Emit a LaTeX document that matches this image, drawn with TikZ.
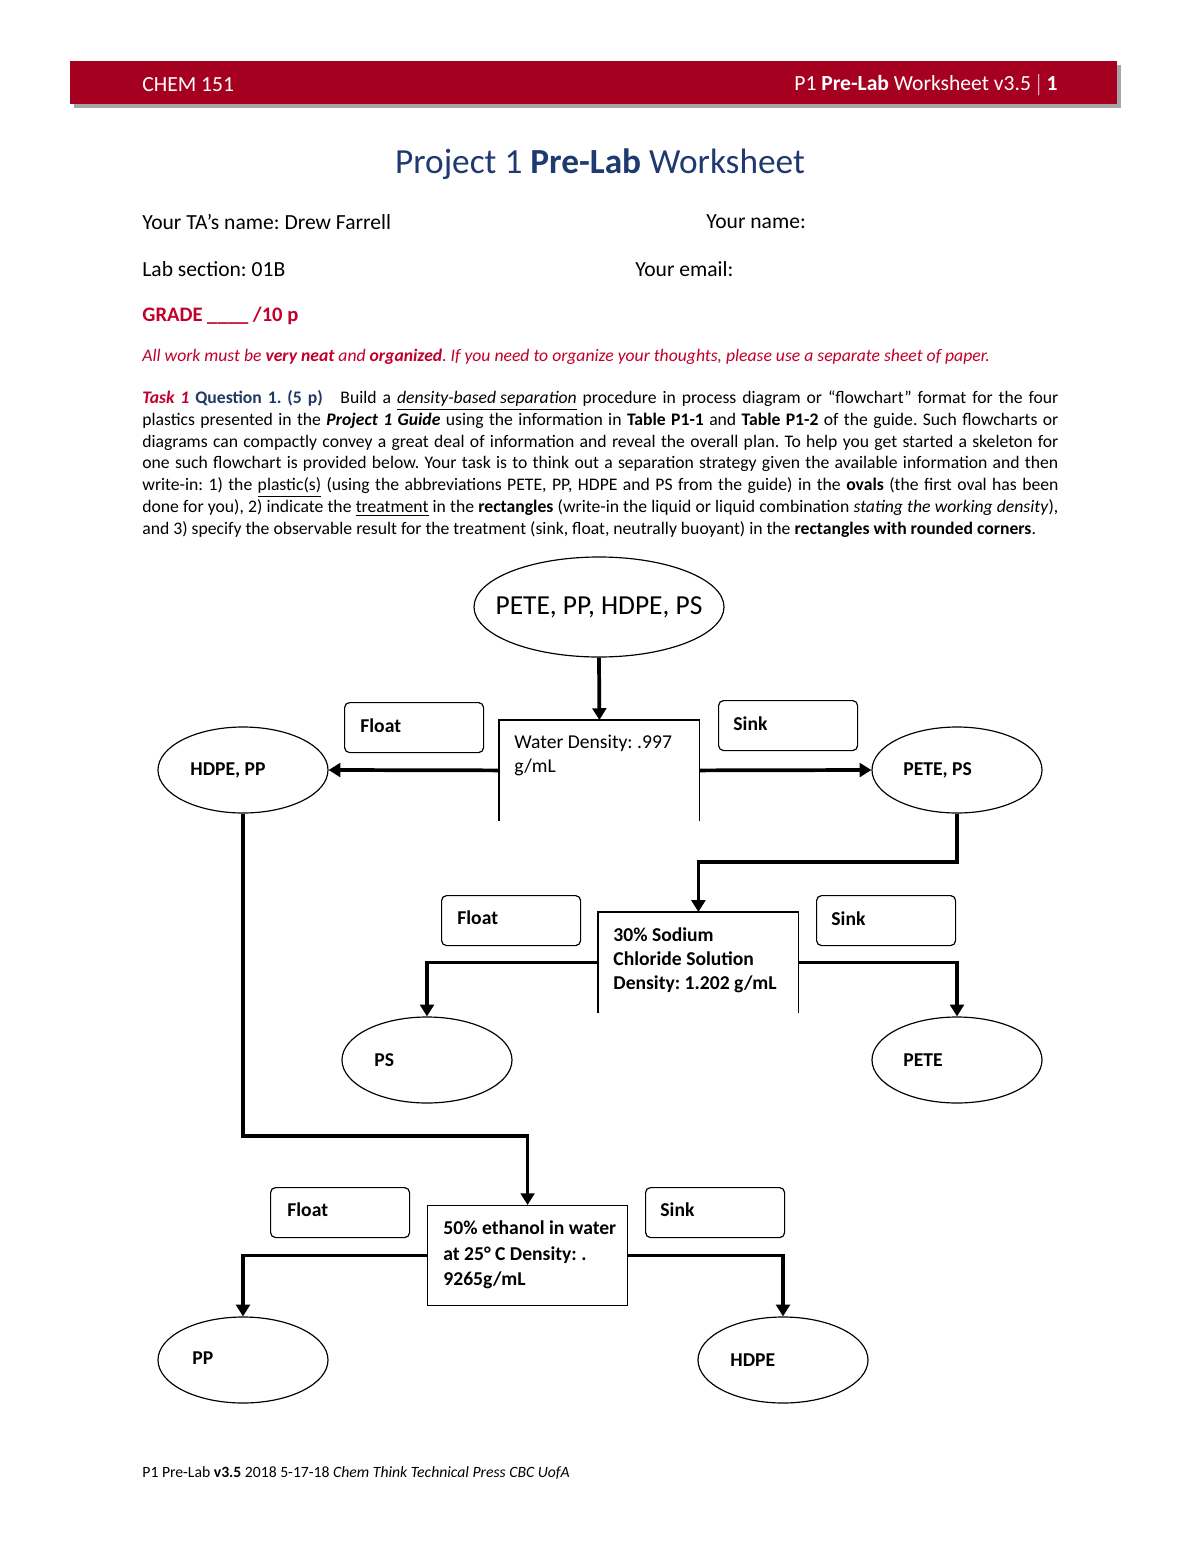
\documentclass[tikz,border=0pt]{standalone}
\usepackage{fontspec}
\setmainfont{Carlito}
\usetikzlibrary{shapes.geometric,arrows.meta}
\definecolor{hdrred}{HTML}{A60021}
\definecolor{hdrshadow}{HTML}{A6A6A6}
\definecolor{txtred}{HTML}{C0002A}
\definecolor{navy}{HTML}{1F3864}
\definecolor{titleblue}{HTML}{1F3A70}
\newlength\pxl
\setlength\pxl{0.51pt}
\frenchspacing
\tikzset{
  hdr/.style={font=\fontsize{11}{13}\selectfont, text=white, inner sep=0pt},
  plain/.style={font=\fontsize{11}{13}\selectfont, inner sep=0pt},
  lbl/.style={font=\fontsize{10}{12}\selectfont\bfseries, inner sep=0pt},
  boxtext/.style={font=\fontsize{10}{12.2}\selectfont\bfseries, inner sep=0pt, align=left},
  oval/.style={ellipse, draw, line width=0.6pt, minimum width=170\pxl, minimum height=86\pxl, inner sep=0pt},
  resbox/.style={draw, line width=0.6pt, rounded corners=5\pxl, minimum width=139\pxl, minimum height=50\pxl, anchor=north west, inner sep=0pt},
  procbox/.style={minimum width=200\pxl, minimum height=100\pxl, anchor=north west, inner sep=0pt},
  conn/.style={line width=1.9pt, -{Triangle[length=6pt,width=7pt]}},
  edge/.style={line width=0.6pt}
}
\begin{document}
\begin{tikzpicture}[x=0.51pt,y=-0.51pt]
\useasboundingbox (0,0) rectangle (1200,1553);
% header band
\fill[hdrshadow] (74,65) rectangle (1121,108);
\fill[hdrred] (70,61) rectangle (1117,104);
\node[hdr, anchor=west] (hl) at (142,85) {CHEM 151};
\node[hdr, anchor=east] (hr) at (1058,85) {P1 \textbf{Pre-Lab} Worksheet v3.5 $|$ \textbf{1}};
% title
\node[inner sep=0pt, text=titleblue, font=\fontsize{18}{20}\selectfont] (title) at (600,164) {Project 1 \textbf{Pre-Lab} Worksheet};
% info lines
\node[plain, anchor=west] (ta) at (142,222) {Your TA’s name: Drew Farrell};
\node[plain, anchor=west] (yn) at (706,222) {Your name:};
\node[plain, anchor=west] (ls) at (142,269) {Lab section: 01B};
\node[plain, anchor=west] (ye) at (635,269) {Your email:};
\node[inner sep=0pt, anchor=west, text=txtred, font=\fontsize{10.5}{13}\selectfont\bfseries] (grade) at (142,316) {GRADE \_\_\_\_ /10 p};
\node[inner sep=0pt, anchor=west, text=txtred, font=\fontsize{9}{11}\selectfont\itshape] (note) at (142,357) {All work must be \textbf{very neat} and \textbf{organized}. If you need to organize your thoughts, please use a separate sheet of paper.};
% task paragraph
\node[inner sep=0pt, anchor=north west, text width=916\pxl, align=justify, font=\fontsize{9}{11.1}\selectfont] (task) at (142,390) {\hyphenpenalty=10000\exhyphenpenalty=10000%
\textcolor{txtred}{\textbf{\textit{Task 1}}} \textcolor{navy}{\textbf{Question 1. (5 p)}}\quad Build a \underline{\textit{density-based separation}} procedure in process diagram or “flowchart” format for the four\linebreak
plastics presented in the \textbf{\textit{Project 1 Guide}} using the information in \textbf{Table P1-1} and \textbf{Table P1-2} of the guide. Such flowcharts or\linebreak
diagrams can compactly convey a great deal of information and reveal the overall plan. To help you get started a skeleton for\linebreak
one such flowchart is provided below. Your task is to think out a separation strategy given the available information and then\linebreak
write-in: 1) the \underline{plastic(s)} (using the abbreviations PETE, PP, HDPE and PS from the guide) in the \textbf{ovals} (the first oval has been\linebreak
done for you), 2) indicate the \underline{treatment} in the \textbf{rectangles} (write-in the liquid or liquid combination \textit{stating the working density}),\linebreak
and 3) specify the observable result for the treatment (sink, float, neutrally buoyant) in the \textbf{rectangles with rounded corners}.};
% ---------------- diagram ----------------
\node[ellipse, draw, line width=0.6pt, minimum width=250\pxl, minimum height=100\pxl, inner sep=0pt] (e1) at (599,607) {};
\node[inner sep=0pt, font=\fontsize{14}{16}\selectfont] (e1t) at (e1.center) {PETE, PP, HDPE, PS};
% level 1
\node[procbox] (wbox) at (499,720) {};
\draw[edge] (wbox.south west) -- (wbox.north west) -- (wbox.north east) -- (wbox.south east);
\node[inner sep=0pt, anchor=north west, align=left, font=\fontsize{10}{12.2}\selectfont] (wtxt) at (514,735) {Water Density: .997\\g/mL};
\node[resbox] (f1) at (344,702) {};
\node[lbl, anchor=west] (f1t) at (360,726) {Float};
\node[resbox] (s1) at (718,700) {};
\node[lbl, anchor=west] (s1t) at (733,724) {Sink};
\node[oval] (e2) at (243,770) {};
\node[lbl, anchor=west] (e2t) at (190,770) {HDPE, PP};
\node[oval] (e3) at (957,770) {};
\node[lbl, anchor=west] (e3t) at (903,770) {PETE, PS};
\draw[conn] (e1.south) -- (wbox.north);
\draw[conn] (wbox.west) -- (e2.east);
\draw[conn] (wbox.east) -- (e3.west);
% level 2
\node[procbox] (sbox) at (598,912) {};
\draw[edge] (sbox.south west) -- (sbox.north west) -- (sbox.north east) -- (sbox.south east);
\node[boxtext, anchor=north west] (stxt) at (613,927) {30\% Sodium\\Chloride Solution\\Density: 1.202 g/mL};
\node[resbox] (f2) at (441,895) {};
\node[lbl, anchor=west] (f2t) at (457,918) {Float};
\node[resbox] (s2) at (816,895) {};
\node[lbl, anchor=west] (s2t) at (831,919) {Sink};
\node[oval] (e4) at (427,1060) {};
\node[lbl, anchor=west] (e4t) at (374,1060) {PS};
\node[oval] (e5) at (957,1060) {};
\node[lbl, anchor=west] (e5t) at (903,1060) {PETE};
\coordinate (j1) at (800,862);
\draw[conn] (e3.south) |- (j1) -| (sbox.north);
\draw[conn] (sbox.west) -| (e4.north);
\draw[conn] (sbox.east) -| (e5.north);
% level 3
\node[procbox, draw, line width=0.6pt] (ebox) at (427,1205) {};
\node[boxtext, anchor=north west, font=\fontsize{10}{13.2}\selectfont\bfseries] (etxt) at (443,1220) {50\% ethanol in water\\at 25° C Density: .\\9265g/mL};
\node[resbox] (f3) at (270,1187) {};
\node[lbl, anchor=west] (f3t) at (287,1210) {Float};
\node[resbox] (s3) at (645,1187) {};
\node[lbl, anchor=west] (s3t) at (660,1210) {Sink};
\node[oval] (e6) at (243,1360) {};
\node[lbl, anchor=west] (e6t) at (192,1358) {PP};
\node[oval] (e7) at (783,1360) {};
\node[lbl, anchor=west] (e7t) at (730,1360) {HDPE};
\coordinate (j2) at (400,1136);
\draw[conn] (e2.south) |- (j2) -| (ebox.north);
\draw[conn] (ebox.west) -| (e6.north);
\draw[conn] (ebox.east) -| (e7.north);
% footer
\node[inner sep=0pt, anchor=west, font=\fontsize{8}{10}\selectfont] (foot) at (142,1473) {P1 Pre-Lab \textbf{v3.5} 2018 5-17-18 \textit{Chem Think Technical Press CBC UofA}};
\end{tikzpicture}
\end{document}
